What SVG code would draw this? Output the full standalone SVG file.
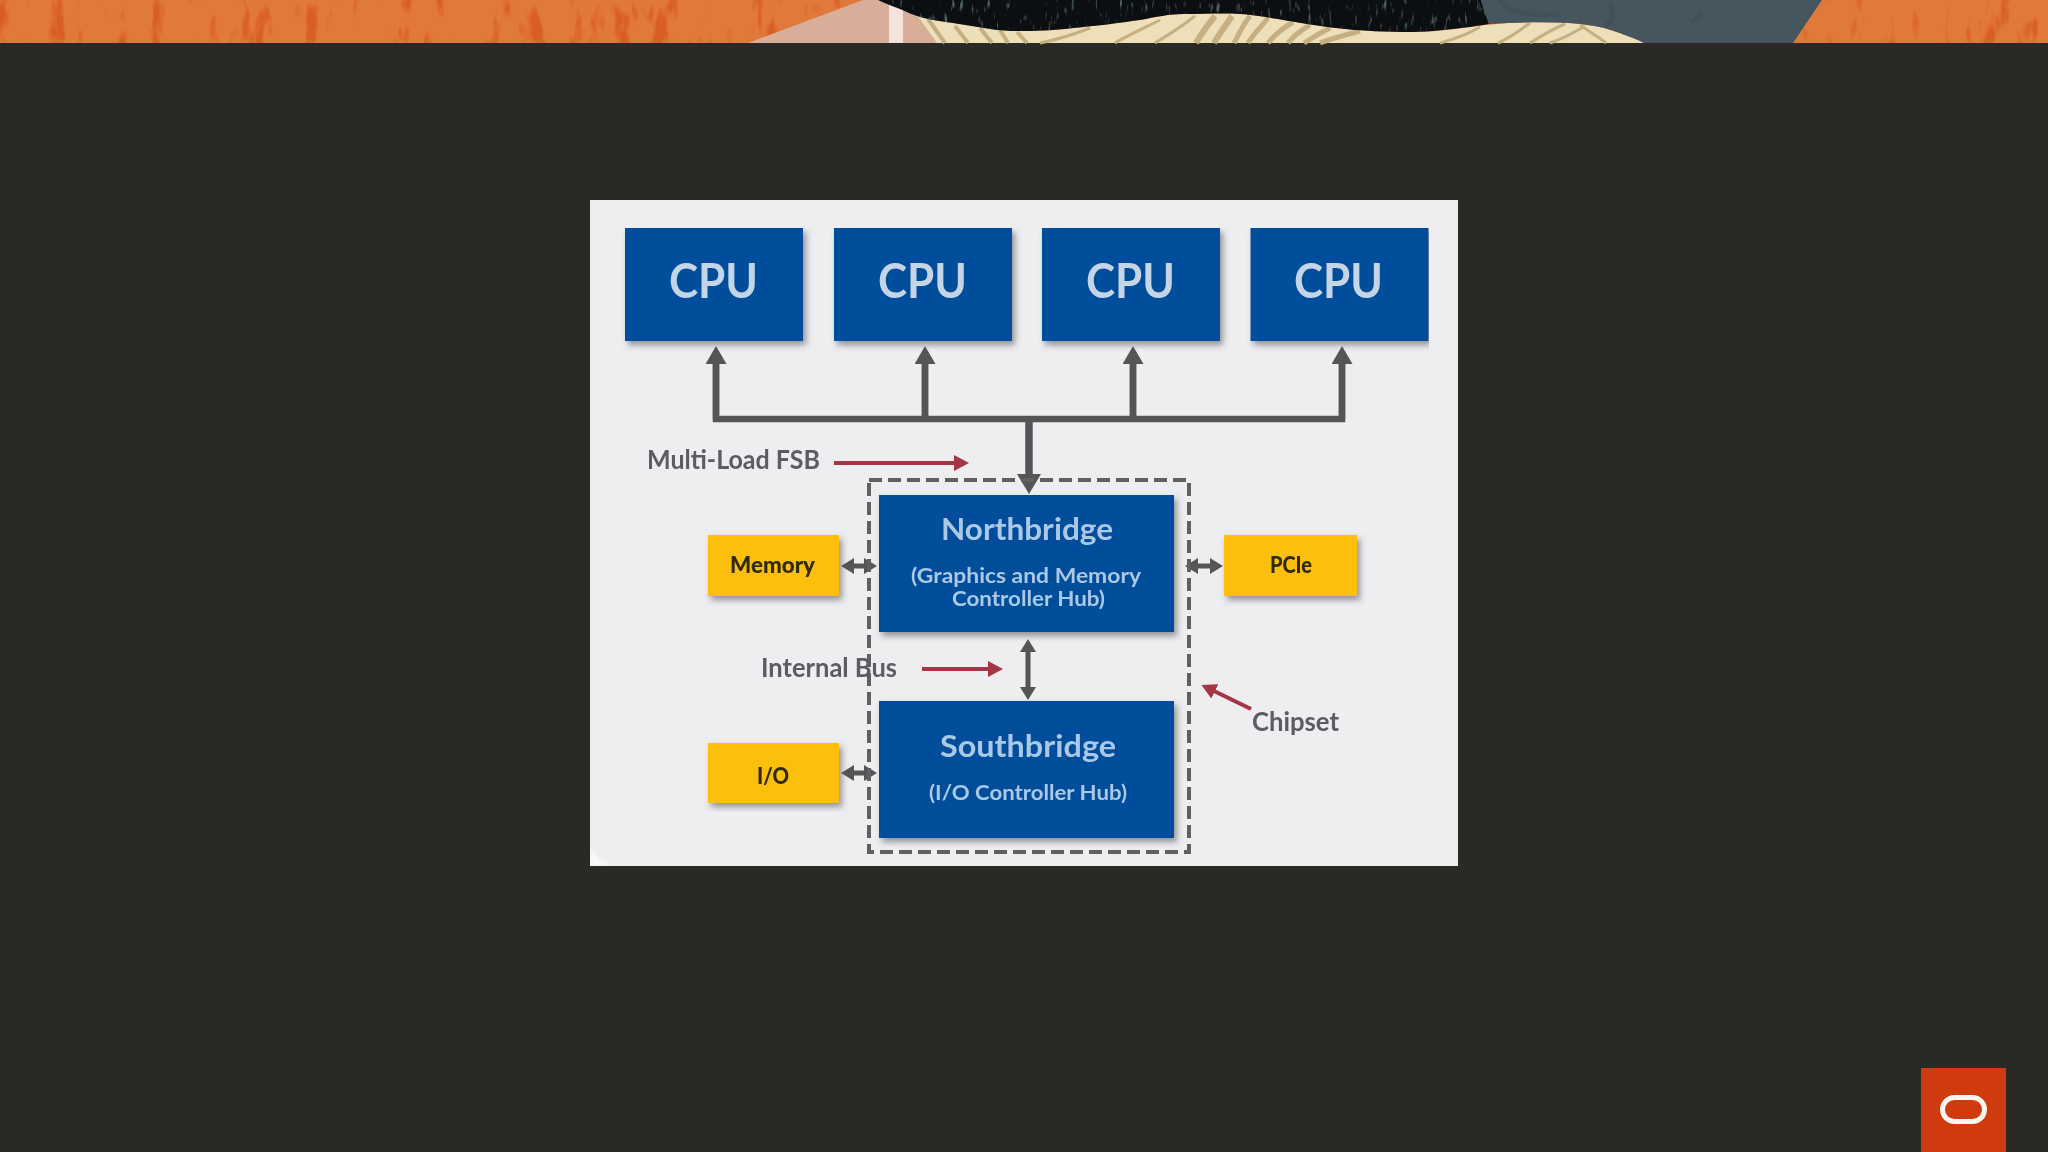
<svg xmlns="http://www.w3.org/2000/svg" width="2048" height="1152" viewBox="0 0 2048 1152">
<defs>
<style>
text{font-family:"Lato","Carlito","Liberation Sans",sans-serif}
.cpu{fill:#064e9b;filter:url(#sh)}
.chip{fill:#064e9b;filter:url(#sh)}
.y{fill:#fdbf08;filter:url(#sh)}
.cput{fill:#c4d5e8;font-size:47px;font-weight:700}
.h{fill:#abc8e6;font-size:31px;font-weight:700}
.s{fill:#abc8e6;font-size:21px;font-weight:700}
.d{fill:#2e2a0a;font-size:22px;font-weight:900}
.l{fill:#5c5c62;font-size:27px;font-weight:700}
.bus{fill:none;stroke:#545458;stroke-width:6.500}
.dbl{fill:none;stroke:#545458;stroke-width:5}
.red{fill:none;stroke:#a43442;stroke-width:4}
.stripe{fill:none;stroke:#c6b083}
</style>
<filter id="sh" x="-10%" y="-10%" width="125%" height="125%"><feDropShadow dx="3" dy="4" stdDeviation="3" flood-color="#55555a" flood-opacity=".6"/></filter>
<filter id="soft" x="0" y="0" width="100%" height="100%"><feGaussianBlur stdDeviation="0.7"/></filter>
<filter id="corner" x="-50%" y="-50%" width="200%" height="200%"><feGaussianBlur stdDeviation="2"/></filter>
<filter id="streak" x="0" y="0" width="100%" height="100%" color-interpolation-filters="sRGB">
<feTurbulence type="fractalNoise" baseFrequency="0.06 0.02" numOctaves="3" seed="4"/>
<feColorMatrix values="0 0 0 0 0.85  0 0 0 0 0.37  0 0 0 0 0.14  6 0 0 0 -3.4"/>
</filter>
<filter id="speck" x="0" y="0" width="100%" height="100%" color-interpolation-filters="sRGB">
<feTurbulence type="fractalNoise" baseFrequency="0.25 0.07" numOctaves="2" seed="9" result="n"/>
<feColorMatrix in="n" values="0 0 0 0 0.3  0 0 0 0 0.38  0 0 0 0 0.4  5 0 0 0 -3.1" result="c"/>
<feComposite in="c" in2="SourceAlpha" operator="in" result="m"/>
<feMerge><feMergeNode in="SourceGraphic"/><feMergeNode in="m"/></feMerge>
</filter>
<marker id="ah" markerUnits="userSpaceOnUse" markerWidth="18" markerHeight="21" viewBox="0 0 18 21" refX="1" refY="10.5" orient="auto"><path d="M0 0L18 10.5L0 21z" fill="#545458"/></marker>
<marker id="ad" markerUnits="userSpaceOnUse" markerWidth="20" markerHeight="24" viewBox="0 0 20 24" refX="1" refY="12" orient="auto"><path d="M0 0L20 12L0 24z" fill="#545458"/></marker>
<marker id="as" markerUnits="userSpaceOnUse" markerWidth="13" markerHeight="16" viewBox="0 0 13 16" refX="1" refY="8" orient="auto-start-reverse"><path d="M0 0L13 8L0 16z" fill="#545458"/></marker>
<marker id="ar" markerUnits="userSpaceOnUse" markerWidth="15" markerHeight="16" viewBox="0 0 15 16" refX="1" refY="8" orient="auto"><path d="M0 0L15 8L0 16z" fill="#a43442"/></marker>
</defs>
<rect width="2048" height="1152" fill="#2b2926"/>
<g id="banner">
<rect width="2048" height="43" fill="#e2793c"/>
<rect width="2048" height="43" filter="url(#streak)"/>
<path d="M863 0H905L940 43H748Z" fill="#d9ae99"/>
<path d="M889 5H903V43H889Z" fill="#f3e3dc"/>
<path d="M917 15C930 19 942 22 953 23C975 26 1000 31 1023 31C1045 31 1060 30 1073 28C1095 26 1120 22 1140 20C1155 17 1170 14 1183 14C1205 14 1225 13 1240 14C1255 15 1265 17 1278 19C1300 23 1318 26 1336 28C1360 31 1390 32 1412 32C1435 32 1455 29 1470 27C1485 25 1495 24 1508 23C1530 22 1550 22 1569 23C1585 24 1595 26 1604 28C1620 33 1632 37 1644 43H937Z" fill="#ecdfb9"/>
<g class="stripes">
<path class="stripe" stroke-width="4" d="M928 19L945 43M955 26L968 43M980 28L992 43M1000 30L1008 43M1017 32L1027 43"/>
<path class="stripe" stroke-width="3" d="M1090 28C1070 36 1055 40 1040 43M1160 20C1140 30 1125 37 1115 43M1195 16C1180 28 1165 37 1155 43"/>
<path class="stripe" stroke-width="6" d="M1215 16C1205 28 1200 36 1196 43M1232 16C1224 28 1218 36 1214 43"/>
<path class="stripe" stroke-width="5" d="M1250 16C1242 26 1238 36 1234 43M1268 18C1260 28 1252 36 1248 43M1293 22C1280 30 1272 38 1268 43M1310 25C1298 32 1292 38 1288 43M1330 28C1320 33 1310 39 1304 43M1360 31C1345 35 1330 39 1320 43"/>
<path class="stripe" stroke-width="3" d="M1480 27C1470 33 1455 39 1440 43M1530 23C1520 30 1510 38 1498 43M1565 24C1550 30 1540 37 1530 43M1585 26C1575 32 1565 38 1550 43M1580 25C1590 32 1600 38 1606 43"/>
</g>
<path d="M878 0C884 3 892 6 900 9C907 12 913 15 920 17C930 20 942 21 953 23C965 25 978 27 990 29C1000 31 1012 31 1023 31C1040 31 1058 30 1073 28C1095 26 1120 23 1140 20C1155 17 1170 14 1183 14C1205 14 1225 13 1240 14C1255 15 1265 17 1278 19C1300 23 1318 26 1336 28C1360 31 1390 32 1412 32C1430 32 1450 29 1470 27L1489 24L1481 0Z" fill="#0b0f12" filter="url(#speck)"/>
<path d="M1481 0H1822L1793 43H1644C1632 37 1620 33 1604 28C1595 26 1585 24 1569 23C1550 22 1530 22 1508 23L1489 24Z" fill="#46565f"/>
<path d="M1500 0C1505 12 1530 16 1560 14M1610 4C1615 14 1612 20 1606 26M1690 22C1700 18 1702 14 1700 10" fill="none" stroke="#3f4e57" stroke-width="5" opacity=".7"/>
</g>
<rect id="panel" x="590" y="200" width="868" height="666" fill="#eeeef0"/>
<g id="slide" filter="url(#soft)">
<path d="M590 846C595 858 603 864 616 866H590Z" fill="#fbfbfc" filter="url(#corner)"/>
<g id="connectors">
<path class="bus" d="M716 363V419H1342V363M925 363V419M1133 363V419"/>
<path class="bus" d="M716 419V363" marker-end="url(#ah)"/>
<path class="bus" d="M925 419V363" marker-end="url(#ah)"/>
<path class="bus" d="M1133 419V363" marker-end="url(#ah)"/>
<path class="bus" d="M1342 419V363" marker-end="url(#ah)"/>
<path class="bus" style="stroke-width:7.500" d="M1029 419V475" marker-end="url(#ad)"/>
<path class="dbl" d="M1028 651V688" marker-start="url(#as)" marker-end="url(#as)"/>
<path class="dbl" d="M853 566H865" marker-start="url(#as)" marker-end="url(#as)"/>
<path class="dbl" d="M1197 566H1211" marker-start="url(#as)" marker-end="url(#as)"/>
<path class="dbl" d="M853 773H865" marker-start="url(#as)" marker-end="url(#as)"/>
<path class="red" d="M834 463H955" marker-end="url(#ar)"/>
<path class="red" d="M922 669H989" marker-end="url(#ar)"/>
<path class="red" d="M1251 709L1214 691" marker-end="url(#ar)"/>
</g>
<rect id="chipset-boundary" x="869" y="480" width="320" height="372" fill="none" stroke="#606064" stroke-width="4" stroke-dasharray="13 6"/>
<g id="cpu1"><rect class="cpu" x="625" y="228" width="178" height="113"/><text class="cput" x="669" y="298" textLength="89" lengthAdjust="spacingAndGlyphs">CPU</text></g>
<g id="cpu2"><rect class="cpu" x="834" y="228" width="178" height="113"/><text class="cput" x="878" y="298" textLength="89" lengthAdjust="spacingAndGlyphs">CPU</text></g>
<g id="cpu3"><rect class="cpu" x="1042" y="228" width="178" height="113"/><text class="cput" x="1086" y="298" textLength="89" lengthAdjust="spacingAndGlyphs">CPU</text></g>
<g id="cpu4"><rect class="cpu" x="1250.500" y="228" width="178" height="113"/><text class="cput" x="1294" y="298" textLength="89" lengthAdjust="spacingAndGlyphs">CPU</text></g>
<g id="northbridge"><rect class="chip" x="879" y="495" width="295" height="137"/>
<text class="h" x="941" y="540" textLength="172" lengthAdjust="spacingAndGlyphs">Northbridge</text>
<text class="s" x="911" y="583" textLength="230" lengthAdjust="spacingAndGlyphs">(Graphics and Memory</text>
<text class="s" x="952" y="606" textLength="153" lengthAdjust="spacingAndGlyphs">Controller Hub)</text></g>
<g id="southbridge"><rect class="chip" x="879" y="701" width="295" height="137"/>
<text class="h" x="940" y="757" textLength="176" lengthAdjust="spacingAndGlyphs">Southbridge</text>
<text class="s" x="929" y="800" textLength="198" lengthAdjust="spacingAndGlyphs">(I/O Controller Hub)</text></g>
<g id="memory"><rect class="y" x="708" y="535" width="131" height="61"/><text class="d" x="730" y="573" textLength="85" lengthAdjust="spacingAndGlyphs">Memory</text></g>
<g id="pcie"><rect class="y" x="1224" y="535" width="133" height="61"/><text class="d" x="1270" y="573" textLength="42" lengthAdjust="spacingAndGlyphs">PCIe</text></g>
<g id="io"><rect class="y" x="708" y="743" width="131" height="60"/><text class="d" x="757" y="784" textLength="32" lengthAdjust="spacingAndGlyphs">I/O</text></g>
<text class="l" x="647" y="469" textLength="173" lengthAdjust="spacingAndGlyphs">Multi-Load FSB</text>
<text class="l" x="761" y="677" textLength="136" lengthAdjust="spacingAndGlyphs">Internal Bus</text>
<text class="l" x="1252" y="731" textLength="87" lengthAdjust="spacingAndGlyphs">Chipset</text>
</g>
<g id="logo">
<rect x="1921" y="1068" width="85" height="84" fill="#cf3a0f"/>
<rect x="1942.500" y="1097.500" width="42" height="24" rx="12" fill="none" stroke="#fdf5f0" stroke-width="5"/>
</g>
</svg>
